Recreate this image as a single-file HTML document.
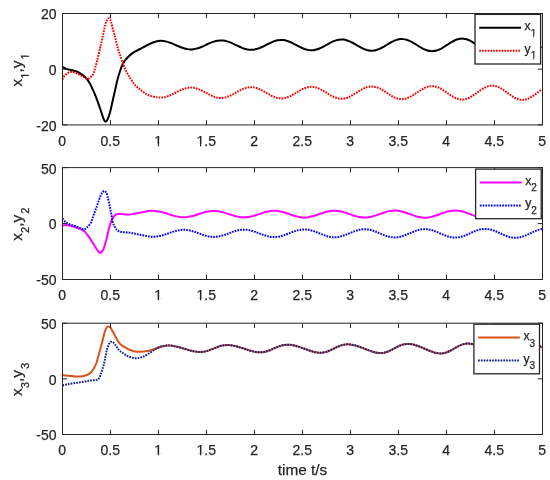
<!DOCTYPE html>
<html><head><meta charset="utf-8"><title>plot</title>
<style>html,body{margin:0;padding:0;background:#fff;}svg{display:block;}
text{font-family:'Liberation Sans', Arial, Helvetica, sans-serif;fill:#262626;stroke:#262626;stroke-width:0.25px;}</style></head><body>
<svg width="550" height="480" viewBox="0 0 550 480">
<rect width="550" height="480" fill="#fff"/>
<clipPath id="c0"><rect x="62.5" y="13.5" width="480.0" height="111.4"/></clipPath>
<g clip-path="url(#c0)" fill="none" stroke-width="2" stroke-linejoin="round">
<path d="M62.50,66.90 C63.23,67.27 65.32,68.55 66.90,69.10 C68.48,69.65 70.18,69.72 72.00,70.20 C73.82,70.68 75.98,71.15 77.80,72.00 C79.62,72.85 81.45,74.22 82.90,75.30 C84.35,76.38 85.28,77.05 86.50,78.50 C87.72,79.95 89.22,82.28 90.20,84.00 C91.18,85.72 91.70,87.27 92.40,88.80 C93.10,90.33 93.55,91.13 94.40,93.20 C95.25,95.27 96.47,98.40 97.50,101.20 C98.53,104.00 99.67,107.27 100.60,110.00 C101.53,112.73 102.37,115.70 103.10,117.60 C103.83,119.50 104.30,121.00 105.00,121.40 C105.70,121.80 106.47,121.48 107.30,120.00 C108.13,118.52 109.13,115.58 110.00,112.50 C110.87,109.42 111.67,105.15 112.50,101.50 C113.33,97.85 114.17,94.25 115.00,90.60 C115.83,86.95 116.67,82.83 117.50,79.60 C118.33,76.37 119.07,73.92 120.00,71.20 C120.93,68.48 121.85,65.58 123.10,63.30 C124.35,61.02 125.93,59.20 127.50,57.50 C129.07,55.80 130.42,54.52 132.50,53.10 C134.58,51.68 137.50,50.35 140.00,49.00 C142.50,47.65 145.21,46.12 147.50,45.00 C149.79,43.88 151.58,42.99 153.75,42.30 C155.92,41.61 158.88,41.06 160.50,40.85 C162.12,40.63 162.50,40.90 163.50,41.03 C164.50,41.15 165.50,41.35 166.50,41.60 C167.50,41.84 168.50,42.16 169.50,42.50 C170.50,42.85 171.50,43.25 172.50,43.66 C173.50,44.07 174.50,44.53 175.50,44.97 C176.50,45.40 177.50,45.87 178.50,46.29 C179.50,46.71 180.50,47.13 181.50,47.50 C182.50,47.86 183.50,48.20 184.50,48.47 C185.50,48.75 186.50,48.97 187.50,49.12 C188.50,49.27 189.50,49.36 190.50,49.38 C191.50,49.39 192.50,49.33 193.50,49.21 C194.50,49.08 195.50,48.88 196.50,48.63 C197.50,48.37 198.50,48.04 199.50,47.69 C200.50,47.33 201.50,46.90 202.50,46.47 C203.50,46.04 204.50,45.57 205.50,45.11 C206.50,44.65 207.50,44.16 208.50,43.71 C209.50,43.27 210.50,42.82 211.50,42.43 C212.50,42.04 213.50,41.68 214.50,41.39 C215.50,41.10 216.50,40.85 217.50,40.69 C218.50,40.52 219.50,40.42 220.50,40.40 C221.50,40.38 222.50,40.43 223.50,40.56 C224.50,40.68 225.50,40.89 226.50,41.15 C227.50,41.41 228.50,41.75 229.50,42.12 C230.50,42.49 231.50,42.93 232.50,43.38 C233.50,43.83 234.50,44.33 235.50,44.82 C236.50,45.30 237.50,45.81 238.50,46.28 C239.50,46.75 240.50,47.22 241.50,47.63 C242.50,48.04 243.50,48.43 244.50,48.74 C245.50,49.05 246.50,49.32 247.50,49.50 C248.50,49.68 249.50,49.79 250.50,49.82 C251.50,49.85 252.50,49.80 253.50,49.68 C254.50,49.56 255.50,49.35 256.50,49.08 C257.50,48.81 258.50,48.46 259.50,48.08 C260.50,47.69 261.50,47.23 262.50,46.77 C263.50,46.30 264.50,45.78 265.50,45.27 C266.50,44.76 267.50,44.23 268.50,43.73 C269.50,43.24 270.50,42.74 271.50,42.31 C272.50,41.87 273.50,41.46 274.50,41.13 C275.50,40.80 276.50,40.51 277.50,40.32 C278.50,40.12 279.50,40.00 280.50,39.96 C281.50,39.92 282.50,39.96 283.50,40.08 C284.50,40.20 285.50,40.41 286.50,40.69 C287.50,40.96 288.50,41.32 289.50,41.72 C290.50,42.12 291.50,42.59 292.50,43.08 C293.50,43.56 294.50,44.11 295.50,44.64 C296.50,45.16 297.50,45.73 298.50,46.24 C299.50,46.76 300.50,47.29 301.50,47.75 C302.50,48.20 303.50,48.64 304.50,48.99 C305.50,49.34 306.50,49.65 307.50,49.86 C308.50,50.07 309.50,50.21 310.50,50.26 C311.50,50.31 312.50,50.28 313.50,50.16 C314.50,50.04 315.50,49.82 316.50,49.55 C317.50,49.27 318.50,48.90 319.50,48.49 C320.50,48.08 321.50,47.59 322.50,47.08 C323.50,46.58 324.50,46.01 325.50,45.46 C326.50,44.91 327.50,44.33 328.50,43.78 C329.50,43.24 330.50,42.69 331.50,42.21 C332.50,41.73 333.50,41.27 334.50,40.89 C335.50,40.52 336.50,40.19 337.50,39.97 C338.50,39.74 339.50,39.58 340.50,39.52 C341.50,39.46 342.50,39.49 343.50,39.61 C344.50,39.72 345.50,39.93 346.50,40.22 C347.50,40.50 348.50,40.88 349.50,41.30 C350.50,41.72 351.50,42.23 352.50,42.75 C353.50,43.27 354.50,43.86 355.50,44.43 C356.50,45.00 357.50,45.61 358.50,46.18 C359.50,46.75 360.50,47.32 361.50,47.83 C362.50,48.34 363.50,48.82 364.50,49.22 C365.50,49.61 366.50,49.96 367.50,50.21 C368.50,50.45 369.50,50.62 370.50,50.69 C371.50,50.77 372.50,50.74 373.50,50.63 C374.50,50.52 375.50,50.31 376.50,50.02 C377.50,49.74 378.50,49.35 379.50,48.92 C380.50,48.49 381.50,47.96 382.50,47.42 C383.50,46.89 384.50,46.28 385.50,45.68 C386.50,45.09 387.50,44.45 388.50,43.86 C389.50,43.27 390.50,42.67 391.50,42.14 C392.50,41.61 393.50,41.10 394.50,40.68 C395.50,40.26 396.50,39.89 397.50,39.63 C398.50,39.36 399.50,39.18 400.50,39.09 C401.50,39.01 402.50,39.02 403.50,39.13 C404.50,39.24 405.50,39.45 406.50,39.74 C407.50,40.02 408.50,40.42 409.50,40.86 C410.50,41.30 411.50,41.84 412.50,42.40 C413.50,42.95 414.50,43.58 415.50,44.20 C416.50,44.81 417.50,45.47 418.50,46.09 C419.50,46.70 420.50,47.33 421.50,47.89 C422.50,48.44 423.50,48.98 424.50,49.42 C425.50,49.86 426.50,50.25 427.50,50.53 C428.50,50.82 429.50,51.02 430.50,51.12 C431.50,51.21 432.50,51.21 433.50,51.11 C434.50,51.01 435.50,50.80 436.50,50.51 C437.50,50.22 438.50,49.82 439.50,49.36 C440.50,48.91 441.50,48.36 442.50,47.79 C443.50,47.22 444.50,46.57 445.50,45.93 C446.50,45.29 447.50,44.61 448.50,43.97 C449.50,43.33 450.50,42.67 451.50,42.09 C452.50,41.51 453.50,40.95 454.50,40.49 C455.50,40.02 456.50,39.61 457.50,39.31 C458.50,39.01 459.50,38.78 460.50,38.67 C461.50,38.57 462.50,38.56 463.50,38.65 C464.50,38.75 465.50,38.95 466.50,39.25 C467.50,39.54 468.50,39.94 469.50,40.41 C470.50,40.87 471.50,41.43 472.50,42.02 C473.50,42.61 474.50,43.28 475.50,43.94 C476.50,44.59 477.50,45.30 478.50,45.97 C479.50,46.63 480.50,47.31 481.50,47.92 C482.50,48.52 483.50,49.11 484.50,49.60 C485.50,50.09 486.50,50.52 487.50,50.85 C488.50,51.17 489.50,51.41 490.50,51.53 C491.50,51.65 492.50,51.67 493.50,51.59 C494.50,51.50 495.50,51.29 496.50,51.00 C497.50,50.71 498.50,50.30 499.50,49.83 C500.50,49.36 501.50,48.78 502.50,48.18 C503.50,47.57 504.50,46.88 505.50,46.21 C506.50,45.53 507.50,44.79 508.50,44.10 C509.50,43.42 510.50,42.71 511.50,42.08 C512.50,41.45 513.50,40.83 514.50,40.32 C515.50,39.81 516.50,39.35 517.50,39.01 C518.50,38.66 519.50,38.40 520.50,38.27 C521.50,38.13 522.50,38.10 523.50,38.18 C524.50,38.26 525.50,38.46 526.50,38.75 C527.50,39.04 528.50,39.46 529.50,39.94 C530.50,40.42 531.50,41.00 532.50,41.62 C533.50,42.24 534.50,42.95 535.50,43.65 C536.50,44.35 537.50,45.11 538.50,45.82 C539.50,46.53 541.00,47.57 541.50,47.92" stroke="#000000"/>
<path d="M62.50,79.60 C62.68,79.18 63.10,77.88 63.60,77.10 C64.10,76.32 64.83,75.57 65.50,74.90 C66.17,74.23 66.82,73.58 67.60,73.10 C68.38,72.62 69.28,72.15 70.20,72.00 C71.12,71.85 72.20,72.05 73.10,72.20 C74.00,72.35 74.70,72.57 75.60,72.90 C76.50,73.23 77.58,73.75 78.50,74.20 C79.42,74.65 80.25,75.12 81.10,75.60 C81.95,76.08 82.82,76.67 83.60,77.10 C84.38,77.53 85.07,77.87 85.80,78.20 C86.53,78.53 87.27,79.22 88.00,79.10 C88.73,78.98 89.47,78.13 90.20,77.50 C90.93,76.87 91.80,76.10 92.40,75.30 C93.00,74.50 93.33,73.95 93.80,72.70 C94.27,71.45 94.60,70.00 95.20,67.80 C95.80,65.60 96.60,62.75 97.40,59.50 C98.20,56.25 99.36,51.00 100.00,48.30 C100.64,45.60 100.83,45.10 101.25,43.30 C101.67,41.50 102.08,39.43 102.50,37.50 C102.92,35.57 103.37,33.50 103.75,31.70 C104.13,29.90 104.38,28.37 104.80,26.70 C105.22,25.03 105.68,23.08 106.25,21.70 C106.82,20.32 107.58,18.75 108.20,18.40 C108.83,18.05 109.49,18.92 110.00,19.60 C110.51,20.28 110.70,20.63 111.25,22.50 C111.80,24.37 112.67,28.43 113.30,30.80 C113.92,33.17 114.51,34.82 115.00,36.70 C115.49,38.58 115.83,40.43 116.25,42.10 C116.67,43.77 117.16,45.45 117.50,46.70 C117.84,47.95 117.88,48.22 118.30,49.60 C118.72,50.98 119.20,52.57 120.00,55.00 C120.80,57.43 122.06,61.49 123.10,64.20 C124.14,66.91 125.00,68.83 126.25,71.25 C127.50,73.67 129.14,76.46 130.60,78.75 C132.06,81.04 133.43,83.22 135.00,85.00 C136.57,86.78 138.33,88.05 140.00,89.40 C141.67,90.75 143.33,92.03 145.00,93.10 C146.67,94.17 147.92,95.09 150.00,95.80 C152.08,96.51 155.75,97.06 157.50,97.37 C159.25,97.67 159.50,97.62 160.50,97.62 C161.50,97.63 162.50,97.55 163.50,97.40 C164.50,97.25 165.50,97.02 166.50,96.72 C167.50,96.43 168.50,96.05 169.50,95.65 C170.50,95.24 171.50,94.76 172.50,94.27 C173.50,93.79 174.50,93.25 175.50,92.74 C176.50,92.22 177.50,91.68 178.50,91.19 C179.50,90.69 180.50,90.20 181.50,89.77 C182.50,89.35 183.50,88.95 184.50,88.63 C185.50,88.32 186.50,88.05 187.50,87.88 C188.50,87.70 189.50,87.60 190.50,87.59 C191.50,87.57 192.50,87.64 193.50,87.79 C194.50,87.94 195.50,88.18 196.50,88.48 C197.50,88.77 198.50,89.16 199.50,89.58 C200.50,90.00 201.50,90.49 202.50,90.99 C203.50,91.49 204.50,92.04 205.50,92.58 C206.50,93.11 207.50,93.68 208.50,94.19 C209.50,94.71 210.50,95.22 211.50,95.67 C212.50,96.12 213.50,96.54 214.50,96.87 C215.50,97.21 216.50,97.49 217.50,97.67 C218.50,97.86 219.50,97.98 220.50,98.00 C221.50,98.02 222.50,97.96 223.50,97.81 C224.50,97.67 225.50,97.43 226.50,97.13 C227.50,96.83 228.50,96.43 229.50,96.00 C230.50,95.58 231.50,95.07 232.50,94.55 C233.50,94.04 234.50,93.46 235.50,92.91 C236.50,92.36 237.50,91.77 238.50,91.24 C239.50,90.70 240.50,90.16 241.50,89.69 C242.50,89.23 243.50,88.78 244.50,88.43 C245.50,88.08 246.50,87.78 247.50,87.58 C248.50,87.37 249.50,87.25 250.50,87.21 C251.50,87.18 252.50,87.24 253.50,87.38 C254.50,87.52 255.50,87.76 256.50,88.07 C257.50,88.37 258.50,88.77 259.50,89.21 C260.50,89.65 261.50,90.17 262.50,90.70 C263.50,91.23 264.50,91.82 265.50,92.39 C266.50,92.97 267.50,93.57 268.50,94.13 C269.50,94.69 270.50,95.25 271.50,95.74 C272.50,96.23 273.50,96.69 274.50,97.06 C275.50,97.43 276.50,97.75 277.50,97.97 C278.50,98.19 279.50,98.33 280.50,98.37 C281.50,98.41 282.50,98.36 283.50,98.22 C284.50,98.09 285.50,97.85 286.50,97.54 C287.50,97.23 288.50,96.83 289.50,96.38 C290.50,95.93 291.50,95.40 292.50,94.85 C293.50,94.31 294.50,93.70 295.50,93.11 C296.50,92.52 297.50,91.89 298.50,91.31 C299.50,90.73 300.50,90.15 301.50,89.64 C302.50,89.13 303.50,88.64 304.50,88.25 C305.50,87.86 306.50,87.52 307.50,87.29 C308.50,87.05 309.50,86.90 310.50,86.85 C311.50,86.79 312.50,86.83 313.50,86.97 C314.50,87.10 315.50,87.34 316.50,87.65 C317.50,87.96 318.50,88.37 319.50,88.83 C320.50,89.29 321.50,89.83 322.50,90.39 C323.50,90.95 324.50,91.58 325.50,92.19 C326.50,92.80 327.50,93.45 328.50,94.05 C329.50,94.64 330.50,95.25 331.50,95.78 C332.50,96.32 333.50,96.82 334.50,97.23 C335.50,97.64 336.50,98.00 337.50,98.25 C338.50,98.50 339.50,98.67 340.50,98.74 C341.50,98.80 342.50,98.77 343.50,98.64 C344.50,98.51 345.50,98.27 346.50,97.96 C347.50,97.65 348.50,97.23 349.50,96.77 C350.50,96.30 351.50,95.74 352.50,95.17 C353.50,94.60 354.50,93.95 355.50,93.32 C356.50,92.70 357.50,92.03 358.50,91.41 C359.50,90.79 360.50,90.16 361.50,89.60 C362.50,89.05 363.50,88.52 364.50,88.09 C365.50,87.66 366.50,87.28 367.50,87.01 C368.50,86.75 369.50,86.56 370.50,86.48 C371.50,86.41 372.50,86.43 373.50,86.56 C374.50,86.68 375.50,86.91 376.50,87.23 C377.50,87.54 378.50,87.96 379.50,88.43 C380.50,88.91 381.50,89.48 382.50,90.06 C383.50,90.65 384.50,91.31 385.50,91.96 C386.50,92.60 387.50,93.29 388.50,93.94 C389.50,94.58 390.50,95.23 391.50,95.81 C392.50,96.38 393.50,96.93 394.50,97.39 C395.50,97.84 396.50,98.23 397.50,98.52 C398.50,98.80 399.50,99.00 400.50,99.09 C401.50,99.18 402.50,99.17 403.50,99.05 C404.50,98.93 405.50,98.70 406.50,98.39 C407.50,98.07 408.50,97.65 409.50,97.17 C410.50,96.69 411.50,96.11 412.50,95.51 C413.50,94.91 414.50,94.23 415.50,93.57 C416.50,92.90 417.50,92.19 418.50,91.53 C419.50,90.87 420.50,90.19 421.50,89.59 C422.50,88.99 423.50,88.42 424.50,87.95 C425.50,87.47 426.50,87.06 427.50,86.75 C428.50,86.45 429.50,86.23 430.50,86.13 C431.50,86.03 432.50,86.04 433.50,86.15 C434.50,86.26 435.50,86.48 436.50,86.80 C437.50,87.11 438.50,87.54 439.50,88.03 C440.50,88.51 441.50,89.10 442.50,89.72 C443.50,90.33 444.50,91.02 445.50,91.70 C446.50,92.39 447.50,93.12 448.50,93.80 C449.50,94.49 450.50,95.19 451.50,95.80 C452.50,96.42 453.50,97.02 454.50,97.52 C455.50,98.01 456.50,98.45 457.50,98.77 C458.50,99.09 459.50,99.32 460.50,99.44 C461.50,99.55 462.50,99.56 463.50,99.46 C464.50,99.35 465.50,99.13 466.50,98.82 C467.50,98.51 468.50,98.08 469.50,97.58 C470.50,97.09 471.50,96.49 472.50,95.87 C473.50,95.24 474.50,94.53 475.50,93.83 C476.50,93.13 477.50,92.38 478.50,91.67 C479.50,90.97 480.50,90.25 481.50,89.61 C482.50,88.96 483.50,88.34 484.50,87.83 C485.50,87.31 486.50,86.85 487.50,86.51 C488.50,86.17 489.50,85.92 490.50,85.79 C491.50,85.66 492.50,85.64 493.50,85.74 C494.50,85.83 495.50,86.05 496.50,86.36 C497.50,86.67 498.50,87.11 499.50,87.60 C500.50,88.10 501.50,88.71 502.50,89.35 C503.50,89.99 504.50,90.71 505.50,91.43 C506.50,92.15 507.50,92.92 508.50,93.64 C509.50,94.37 510.50,95.12 511.50,95.78 C512.50,96.44 513.50,97.09 514.50,97.63 C515.50,98.16 516.50,98.64 517.50,99.00 C518.50,99.36 519.50,99.63 520.50,99.78 C521.50,99.92 522.50,99.95 523.50,99.86 C524.50,99.78 525.50,99.57 526.50,99.26 C527.50,98.95 528.50,98.51 529.50,98.01 C530.50,97.51 531.50,96.89 532.50,96.24 C533.50,95.59 534.50,94.85 535.50,94.12 C536.50,93.38 537.50,92.59 538.50,91.84 C539.50,91.10 541.00,90.01 541.50,89.64" stroke="#ff0000" stroke-dasharray="1.7 1.1"/>
</g>
<rect x="62.5" y="13.5" width="480.0" height="111.4" fill="none" stroke="#262626" stroke-width="1"/>
<path d="M62.50,124.9V120.10000000000001M62.50,13.5V18.3M110.50,124.9V120.10000000000001M110.50,13.5V18.3M158.50,124.9V120.10000000000001M158.50,13.5V18.3M206.50,124.9V120.10000000000001M206.50,13.5V18.3M254.50,124.9V120.10000000000001M254.50,13.5V18.3M302.50,124.9V120.10000000000001M302.50,13.5V18.3M350.50,124.9V120.10000000000001M350.50,13.5V18.3M398.50,124.9V120.10000000000001M398.50,13.5V18.3M446.50,124.9V120.10000000000001M446.50,13.5V18.3M494.50,124.9V120.10000000000001M494.50,13.5V18.3M542.50,124.9V120.10000000000001M542.50,13.5V18.3M62.5,13.50H67.3M542.5,13.50H537.7M62.5,69.20H67.3M542.5,69.20H537.7M62.5,124.90H67.3M542.5,124.90H537.7" stroke="#262626" stroke-width="1" fill="none"/>
<text x="62.20" y="145.65" font-size="14" text-anchor="middle">0</text>
<text x="110.20" y="145.65" font-size="14" text-anchor="middle">0.5</text>
<text x="158.20" y="145.65" font-size="14" text-anchor="middle" clip-path="url(#f0)">1</text>
<text x="206.20" y="145.65" font-size="14" text-anchor="middle" clip-path="url(#f1)">1.5</text>
<text x="254.20" y="145.65" font-size="14" text-anchor="middle">2</text>
<text x="302.20" y="145.65" font-size="14" text-anchor="middle">2.5</text>
<text x="350.20" y="145.65" font-size="14" text-anchor="middle">3</text>
<text x="398.20" y="145.65" font-size="14" text-anchor="middle">3.5</text>
<text x="446.20" y="145.65" font-size="14" text-anchor="middle">4</text>
<text x="494.20" y="145.65" font-size="14" text-anchor="middle">4.5</text>
<text x="542.20" y="145.65" font-size="14" text-anchor="middle">5</text>
<text x="56.6" y="19.40" font-size="14" text-anchor="end">20</text>
<text x="56.6" y="75.10" font-size="14" text-anchor="end">0</text>
<text x="56.6" y="130.80" font-size="14" text-anchor="end">-20</text>
<text transform="translate(21.75,69.80) rotate(-90)" font-size="15.4" text-anchor="middle" clip-path="url(#f2)">x<tspan font-size="11.2" dy="7.2">1</tspan><tspan dy="-7.2">,y</tspan><tspan font-size="11.2" dx="1" dy="7.2">1</tspan></text>
<rect x="475.0" y="14.40" width="65.60000000000002" height="49.60" fill="#fff" stroke="#262626" stroke-width="1.3"/>
<path d="M479.20,27.80H521.00" stroke="#000000" stroke-width="2"/>
<path d="M479.20,50.80H521.00" stroke="#ff0000" stroke-width="2" stroke-dasharray="1.7 1.1"/>
<text x="524.60" y="30.00" font-size="12.2" fill="#000" clip-path="url(#f3)">x<tspan font-size="10" dy="6.7">1</tspan></text>
<text x="524.60" y="52.70" font-size="12.2" fill="#000" clip-path="url(#f4)">y<tspan font-size="10" dy="6.7">1</tspan></text>
<clipPath id="c1"><rect x="62.5" y="167.6" width="480.0" height="111.9"/></clipPath>
<g clip-path="url(#c1)" fill="none" stroke-width="2" stroke-linejoin="round">
<path d="M62.50,225.60 C63.12,225.52 64.79,225.03 66.25,225.10 C67.71,225.17 69.58,225.60 71.25,226.00 C72.92,226.40 74.58,226.93 76.25,227.50 C77.92,228.07 79.79,228.67 81.25,229.40 C82.71,230.13 83.75,230.70 85.00,231.90 C86.25,233.10 87.50,234.83 88.75,236.60 C90.00,238.37 91.36,240.68 92.50,242.50 C93.64,244.32 94.56,245.93 95.60,247.50 C96.64,249.07 97.92,251.02 98.75,251.90 C99.58,252.78 99.88,253.12 100.60,252.80 C101.32,252.48 102.37,251.40 103.10,250.00 C103.83,248.60 104.37,246.48 105.00,244.40 C105.63,242.32 106.32,239.82 106.90,237.50 C107.48,235.18 107.73,233.30 108.50,230.50 C109.27,227.70 110.45,223.23 111.50,220.70 C112.55,218.17 113.70,216.42 114.80,215.30 C115.90,214.18 116.65,214.18 118.10,214.00 C119.55,213.82 121.68,214.10 123.50,214.20 C125.32,214.30 127.00,214.70 129.00,214.60 C131.00,214.50 133.32,213.98 135.50,213.60 C137.68,213.22 139.92,212.72 142.10,212.30 C144.28,211.88 146.60,211.33 148.60,211.10 C150.60,210.87 152.28,210.83 154.10,210.90 C155.92,210.97 157.78,211.19 159.50,211.50 C161.22,211.81 163.08,212.42 164.40,212.79 C165.72,213.16 166.40,213.40 167.40,213.72 C168.40,214.04 169.40,214.38 170.40,214.69 C171.40,215.01 172.40,215.33 173.40,215.61 C174.40,215.89 175.40,216.16 176.40,216.38 C177.40,216.61 178.40,216.80 179.40,216.94 C180.40,217.08 181.40,217.18 182.40,217.22 C183.40,217.26 184.40,217.26 185.40,217.20 C186.40,217.14 187.40,217.03 188.40,216.88 C189.40,216.73 190.40,216.52 191.40,216.29 C192.40,216.05 193.40,215.77 194.40,215.48 C195.40,215.19 196.40,214.86 197.40,214.54 C198.40,214.21 199.40,213.87 200.40,213.55 C201.40,213.23 202.40,212.90 203.40,212.61 C204.40,212.32 205.40,212.04 206.40,211.82 C207.40,211.59 208.40,211.39 209.40,211.24 C210.40,211.09 211.40,210.99 212.40,210.94 C213.40,210.89 214.40,210.89 215.40,210.94 C216.40,211.00 217.40,211.11 218.40,211.26 C219.40,211.41 220.40,211.61 221.40,211.85 C222.40,212.08 223.40,212.36 224.40,212.65 C225.40,212.95 226.40,213.28 227.40,213.61 C228.40,213.93 229.40,214.28 230.40,214.61 C231.40,214.94 232.40,215.27 233.40,215.57 C234.40,215.86 235.40,216.15 236.40,216.38 C237.40,216.62 238.40,216.83 239.40,216.98 C240.40,217.13 241.40,217.25 242.40,217.30 C243.40,217.36 244.40,217.36 245.40,217.31 C246.40,217.26 247.40,217.16 248.40,217.01 C249.40,216.86 250.40,216.66 251.40,216.42 C252.40,216.19 253.40,215.91 254.40,215.61 C255.40,215.32 256.40,214.98 257.40,214.65 C258.40,214.32 259.40,213.97 260.40,213.63 C261.40,213.30 262.40,212.96 263.40,212.66 C264.40,212.36 265.40,212.06 266.40,211.82 C267.40,211.58 268.40,211.36 269.40,211.20 C270.40,211.04 271.40,210.92 272.40,210.86 C273.40,210.80 274.40,210.79 275.40,210.83 C276.40,210.88 277.40,210.98 278.40,211.13 C279.40,211.27 280.40,211.47 281.40,211.71 C282.40,211.94 283.40,212.22 284.40,212.52 C285.40,212.82 286.40,213.16 287.40,213.49 C288.40,213.82 289.40,214.18 290.40,214.52 C291.40,214.86 292.40,215.21 293.40,215.52 C294.40,215.83 295.40,216.13 296.40,216.38 C297.40,216.63 298.40,216.85 299.40,217.02 C300.40,217.18 301.40,217.31 302.40,217.38 C303.40,217.44 304.40,217.46 305.40,217.42 C306.40,217.38 307.40,217.28 308.40,217.14 C309.40,217.00 310.40,216.80 311.40,216.57 C312.40,216.33 313.40,216.05 314.40,215.75 C315.40,215.45 316.40,215.11 317.40,214.77 C318.40,214.43 319.40,214.07 320.40,213.72 C321.40,213.38 322.40,213.03 323.40,212.71 C324.40,212.39 325.40,212.09 326.40,211.83 C327.40,211.57 328.40,211.34 329.40,211.17 C330.40,210.99 331.40,210.86 332.40,210.79 C333.40,210.71 334.40,210.69 335.40,210.73 C336.40,210.76 337.40,210.85 338.40,210.99 C339.40,211.13 340.40,211.33 341.40,211.56 C342.40,211.80 343.40,212.08 344.40,212.38 C345.40,212.68 346.40,213.03 347.40,213.37 C348.40,213.71 349.40,214.08 350.40,214.43 C351.40,214.78 352.40,215.14 353.40,215.46 C354.40,215.78 355.40,216.10 356.40,216.36 C357.40,216.63 358.40,216.87 359.40,217.05 C360.40,217.23 361.40,217.37 362.40,217.45 C363.40,217.53 364.40,217.56 365.40,217.53 C366.40,217.50 367.40,217.41 368.40,217.27 C369.40,217.13 370.40,216.94 371.40,216.71 C372.40,216.48 373.40,216.19 374.40,215.89 C375.40,215.59 376.40,215.24 377.40,214.89 C378.40,214.55 379.40,214.17 380.40,213.82 C381.40,213.47 382.40,213.10 383.40,212.77 C384.40,212.44 385.40,212.12 386.40,211.85 C387.40,211.57 388.40,211.33 389.40,211.14 C390.40,210.95 391.40,210.80 392.40,210.72 C393.40,210.63 394.40,210.60 395.40,210.62 C396.40,210.65 397.40,210.73 398.40,210.86 C399.40,211.00 400.40,211.19 401.40,211.42 C402.40,211.65 403.40,211.94 404.40,212.24 C405.40,212.54 406.40,212.89 407.40,213.24 C408.40,213.59 409.40,213.97 410.40,214.33 C411.40,214.69 412.40,215.06 413.40,215.40 C414.40,215.73 415.40,216.06 416.40,216.34 C417.40,216.62 418.40,216.88 419.40,217.07 C420.40,217.27 421.40,217.42 422.40,217.52 C423.40,217.61 424.40,217.65 425.40,217.63 C426.40,217.61 427.40,217.53 428.40,217.40 C429.40,217.27 430.40,217.08 431.40,216.85 C432.40,216.62 433.40,216.34 434.40,216.03 C435.40,215.73 436.40,215.38 437.40,215.02 C438.40,214.67 439.40,214.29 440.40,213.92 C441.40,213.56 442.40,213.18 443.40,212.84 C444.40,212.50 445.40,212.16 446.40,211.87 C447.40,211.58 448.40,211.32 449.40,211.12 C450.40,210.91 451.40,210.75 452.40,210.65 C453.40,210.55 454.40,210.51 455.40,210.52 C456.40,210.53 457.40,210.61 458.40,210.73 C459.40,210.86 460.40,211.05 461.40,211.28 C462.40,211.50 463.40,211.79 464.40,212.09 C465.40,212.40 466.40,212.75 467.40,213.11 C468.40,213.46 469.40,213.85 470.40,214.22 C471.40,214.59 472.40,214.98 473.40,215.33 C474.40,215.68 475.40,216.02 476.40,216.32 C477.40,216.61 478.40,216.88 479.40,217.09 C480.40,217.30 481.40,217.47 482.40,217.58 C483.40,217.69 484.40,217.74 485.40,217.73 C486.40,217.72 487.40,217.65 488.40,217.53 C489.40,217.41 490.40,217.22 491.40,217.00 C492.40,216.77 493.40,216.49 494.40,216.18 C495.40,215.87 496.40,215.52 497.40,215.16 C498.40,214.80 499.40,214.41 500.40,214.03 C501.40,213.66 502.40,213.27 503.40,212.91 C504.40,212.56 505.40,212.20 506.40,211.90 C507.40,211.60 508.40,211.32 509.40,211.10 C510.40,210.88 511.40,210.71 512.40,210.59 C513.40,210.48 514.40,210.42 515.40,210.42 C516.40,210.42 517.40,210.49 518.40,210.61 C519.40,210.72 520.40,210.91 521.40,211.13 C522.40,211.35 523.40,211.64 524.40,211.95 C525.40,212.25 526.40,212.61 527.40,212.97 C528.40,213.33 529.40,213.73 530.40,214.11 C531.40,214.49 532.40,214.89 533.40,215.25 C534.40,215.61 535.40,215.97 536.40,216.28 C537.40,216.59 538.40,216.88 539.40,217.10 C540.40,217.33 541.90,217.55 542.40,217.64" stroke="#ff00ff"/>
<path d="M62.50,218.50 C63.02,219.12 64.35,221.22 65.60,222.20 C66.85,223.18 68.43,223.77 70.00,224.40 C71.57,225.03 73.33,225.38 75.00,226.00 C76.67,226.62 78.54,227.53 80.00,228.10 C81.46,228.67 82.60,229.50 83.75,229.40 C84.90,229.30 85.76,228.55 86.90,227.50 C88.04,226.45 89.62,224.77 90.60,223.10 C91.57,221.43 92.02,219.47 92.75,217.50 C93.48,215.53 94.31,213.12 95.00,211.25 C95.69,209.38 96.28,208.03 96.90,206.25 C97.53,204.47 98.13,202.38 98.75,200.60 C99.37,198.82 99.97,196.99 100.60,195.60 C101.22,194.21 101.87,193.02 102.50,192.25 C103.13,191.48 103.78,190.92 104.40,191.00 C105.03,191.08 105.73,191.88 106.25,192.75 C106.77,193.62 107.08,194.79 107.50,196.25 C107.92,197.71 108.33,199.62 108.75,201.50 C109.17,203.38 109.58,205.42 110.00,207.50 C110.42,209.58 110.82,211.67 111.25,214.00 C111.68,216.33 112.01,219.38 112.60,221.50 C113.19,223.62 113.98,225.20 114.80,226.70 C115.62,228.20 116.40,229.62 117.50,230.50 C118.60,231.38 119.85,231.68 121.40,232.00 C122.95,232.32 124.80,232.18 126.80,232.40 C128.80,232.62 131.22,232.92 133.40,233.30 C135.58,233.68 137.73,234.25 139.90,234.70 C142.07,235.15 144.22,235.65 146.40,236.00 C148.58,236.35 150.82,236.80 153.00,236.80 C155.18,236.80 157.60,236.34 159.50,236.00 C161.40,235.66 163.08,235.13 164.40,234.75 C165.72,234.37 166.40,234.07 167.40,233.72 C168.40,233.37 169.40,233.00 170.40,232.65 C171.40,232.30 172.40,231.94 173.40,231.63 C174.40,231.32 175.40,231.02 176.40,230.77 C177.40,230.53 178.40,230.31 179.40,230.16 C180.40,230.00 181.40,229.89 182.40,229.84 C183.40,229.79 184.40,229.80 185.40,229.86 C186.40,229.92 187.40,230.05 188.40,230.21 C189.40,230.38 190.40,230.61 191.40,230.87 C192.40,231.13 193.40,231.44 194.40,231.77 C195.40,232.09 196.40,232.46 197.40,232.81 C198.40,233.17 199.40,233.56 200.40,233.92 C201.40,234.27 202.40,234.64 203.40,234.96 C204.40,235.29 205.40,235.60 206.40,235.85 C207.40,236.11 208.40,236.34 209.40,236.50 C210.40,236.67 211.40,236.78 212.40,236.84 C213.40,236.90 214.40,236.90 215.40,236.84 C216.40,236.78 217.40,236.66 218.40,236.49 C219.40,236.32 220.40,236.09 221.40,235.83 C222.40,235.57 223.40,235.25 224.40,234.92 C225.40,234.60 226.40,234.22 227.40,233.85 C228.40,233.49 229.40,233.09 230.40,232.73 C231.40,232.36 232.40,231.98 233.40,231.65 C234.40,231.31 235.40,230.99 236.40,230.72 C237.40,230.46 238.40,230.22 239.40,230.04 C240.40,229.87 241.40,229.74 242.40,229.68 C243.40,229.62 244.40,229.61 245.40,229.66 C246.40,229.72 247.40,229.84 248.40,230.00 C249.40,230.17 250.40,230.40 251.40,230.66 C252.40,230.93 253.40,231.25 254.40,231.58 C255.40,231.92 256.40,232.30 257.40,232.67 C258.40,233.05 259.40,233.45 260.40,233.83 C261.40,234.21 262.40,234.60 263.40,234.94 C264.40,235.29 265.40,235.62 266.40,235.90 C267.40,236.18 268.40,236.43 269.40,236.61 C270.40,236.79 271.40,236.93 272.40,237.00 C273.40,237.07 274.40,237.08 275.40,237.03 C276.40,236.98 277.40,236.87 278.40,236.70 C279.40,236.54 280.40,236.31 281.40,236.04 C282.40,235.78 283.40,235.45 284.40,235.11 C285.40,234.77 286.40,234.38 287.40,234.00 C288.40,233.62 289.40,233.20 290.40,232.81 C291.40,232.43 292.40,232.03 293.40,231.67 C294.40,231.32 295.40,230.97 296.40,230.68 C297.40,230.39 298.40,230.13 299.40,229.94 C300.40,229.75 301.40,229.60 302.40,229.52 C303.40,229.44 304.40,229.43 305.40,229.47 C306.40,229.51 307.40,229.63 308.40,229.79 C309.40,229.95 310.40,230.18 311.40,230.45 C312.40,230.72 313.40,231.05 314.40,231.39 C315.40,231.74 316.40,232.13 317.40,232.52 C318.40,232.91 319.40,233.34 320.40,233.74 C321.40,234.13 322.40,234.54 323.40,234.91 C324.40,235.28 325.40,235.64 326.40,235.94 C327.40,236.23 328.40,236.50 329.40,236.71 C330.40,236.91 331.40,237.07 332.40,237.15 C333.40,237.24 334.40,237.27 335.40,237.23 C336.40,237.19 337.40,237.08 338.40,236.92 C339.40,236.76 340.40,236.53 341.40,236.26 C342.40,235.99 343.40,235.66 344.40,235.31 C345.40,234.95 346.40,234.55 347.40,234.15 C348.40,233.76 349.40,233.32 350.40,232.92 C351.40,232.51 352.40,232.09 353.40,231.71 C354.40,231.33 355.40,230.96 356.40,230.65 C357.40,230.34 358.40,230.06 359.40,229.85 C360.40,229.63 361.40,229.47 362.40,229.37 C363.40,229.28 364.40,229.24 365.40,229.28 C366.40,229.31 367.40,229.42 368.40,229.58 C369.40,229.73 370.40,229.96 371.40,230.23 C372.40,230.50 373.40,230.84 374.40,231.19 C375.40,231.55 376.40,231.96 377.40,232.36 C378.40,232.77 379.40,233.21 380.40,233.63 C381.40,234.05 382.40,234.48 383.40,234.87 C384.40,235.26 385.40,235.64 386.40,235.96 C387.40,236.28 388.40,236.57 389.40,236.80 C390.40,237.02 391.40,237.20 392.40,237.30 C393.40,237.40 394.40,237.44 395.40,237.42 C396.40,237.39 397.40,237.29 398.40,237.13 C399.40,236.98 400.40,236.75 401.40,236.48 C402.40,236.20 403.40,235.87 404.40,235.51 C405.40,235.15 406.40,234.73 407.40,234.32 C408.40,233.91 409.40,233.46 410.40,233.03 C411.40,232.60 412.40,232.16 413.40,231.76 C414.40,231.36 415.40,230.96 416.40,230.63 C417.40,230.30 418.40,229.99 419.40,229.76 C420.40,229.53 421.40,229.34 422.40,229.23 C423.40,229.12 424.40,229.07 425.40,229.09 C426.40,229.11 427.40,229.21 428.40,229.36 C429.40,229.51 430.40,229.74 431.40,230.01 C432.40,230.29 433.40,230.63 434.40,230.99 C435.40,231.35 436.40,231.77 437.40,232.19 C438.40,232.61 439.40,233.07 440.40,233.51 C441.40,233.95 442.40,234.40 443.40,234.81 C444.40,235.22 445.40,235.63 446.40,235.97 C447.40,236.32 448.40,236.63 449.40,236.88 C450.40,237.12 451.40,237.32 452.40,237.44 C453.40,237.56 454.40,237.62 455.40,237.60 C456.40,237.59 457.40,237.50 458.40,237.35 C459.40,237.20 460.40,236.97 461.40,236.70 C462.40,236.43 463.40,236.08 464.40,235.72 C465.40,235.35 466.40,234.92 467.40,234.49 C468.40,234.07 469.40,233.60 470.40,233.15 C471.40,232.71 472.40,232.24 473.40,231.82 C474.40,231.40 475.40,230.98 476.40,230.62 C477.40,230.27 478.40,229.94 479.40,229.68 C480.40,229.43 481.40,229.22 482.40,229.09 C483.40,228.96 484.40,228.90 485.40,228.90 C486.40,228.91 487.40,229.00 488.40,229.14 C489.40,229.29 490.40,229.52 491.40,229.79 C492.40,230.06 493.40,230.41 494.40,230.78 C495.40,231.15 496.40,231.58 497.40,232.01 C498.40,232.45 499.40,232.93 500.40,233.38 C501.40,233.84 502.40,234.31 503.40,234.75 C504.40,235.18 505.40,235.61 506.40,235.98 C507.40,236.34 508.40,236.68 509.40,236.95 C510.40,237.22 511.40,237.44 512.40,237.58 C513.40,237.71 514.40,237.79 515.40,237.79 C516.40,237.79 517.40,237.71 518.40,237.56 C519.40,237.42 520.40,237.20 521.40,236.93 C522.40,236.65 523.40,236.31 524.40,235.93 C525.40,235.56 526.40,235.12 527.40,234.68 C528.40,234.24 529.40,233.75 530.40,233.29 C531.40,232.82 532.40,232.34 533.40,231.89 C534.40,231.45 535.40,231.01 536.40,230.63 C537.40,230.25 538.40,229.89 539.40,229.62 C540.40,229.34 541.90,229.07 542.40,228.96" stroke="#0000ff" stroke-dasharray="1.7 1.1"/>
</g>
<rect x="62.5" y="167.6" width="480.0" height="111.9" fill="none" stroke="#262626" stroke-width="1"/>
<path d="M62.50,279.5V274.7M62.50,167.6V172.4M110.50,279.5V274.7M110.50,167.6V172.4M158.50,279.5V274.7M158.50,167.6V172.4M206.50,279.5V274.7M206.50,167.6V172.4M254.50,279.5V274.7M254.50,167.6V172.4M302.50,279.5V274.7M302.50,167.6V172.4M350.50,279.5V274.7M350.50,167.6V172.4M398.50,279.5V274.7M398.50,167.6V172.4M446.50,279.5V274.7M446.50,167.6V172.4M494.50,279.5V274.7M494.50,167.6V172.4M542.50,279.5V274.7M542.50,167.6V172.4M62.5,167.60H67.3M542.5,167.60H537.7M62.5,223.55H67.3M542.5,223.55H537.7M62.5,279.50H67.3M542.5,279.50H537.7" stroke="#262626" stroke-width="1" fill="none"/>
<text x="62.20" y="300.25" font-size="14" text-anchor="middle">0</text>
<text x="110.20" y="300.25" font-size="14" text-anchor="middle">0.5</text>
<text x="158.20" y="300.25" font-size="14" text-anchor="middle" clip-path="url(#f5)">1</text>
<text x="206.20" y="300.25" font-size="14" text-anchor="middle" clip-path="url(#f6)">1.5</text>
<text x="254.20" y="300.25" font-size="14" text-anchor="middle">2</text>
<text x="302.20" y="300.25" font-size="14" text-anchor="middle">2.5</text>
<text x="350.20" y="300.25" font-size="14" text-anchor="middle">3</text>
<text x="398.20" y="300.25" font-size="14" text-anchor="middle">3.5</text>
<text x="446.20" y="300.25" font-size="14" text-anchor="middle">4</text>
<text x="494.20" y="300.25" font-size="14" text-anchor="middle">4.5</text>
<text x="542.20" y="300.25" font-size="14" text-anchor="middle">5</text>
<text x="56.6" y="173.50" font-size="14" text-anchor="end">50</text>
<text x="56.6" y="229.45" font-size="14" text-anchor="end">0</text>
<text x="56.6" y="285.40" font-size="14" text-anchor="end">-50</text>
<text transform="translate(21.75,224.15) rotate(-90)" font-size="15.4" text-anchor="middle">x<tspan font-size="11.2" dy="7.2">2</tspan><tspan dy="-7.2">,y</tspan><tspan font-size="11.2" dx="1" dy="7.2">2</tspan></text>
<rect x="475.6" y="169.10" width="65.60000000000002" height="49.60" fill="#fff" stroke="#262626" stroke-width="1.3"/>
<path d="M479.80,182.50H521.60" stroke="#ff00ff" stroke-width="2"/>
<path d="M479.80,205.50H521.60" stroke="#0000ff" stroke-width="2" stroke-dasharray="1.7 1.1"/>
<text x="525.20" y="184.70" font-size="12.2" fill="#000">x<tspan font-size="10" dy="6.7">2</tspan></text>
<text x="525.20" y="207.40" font-size="12.2" fill="#000">y<tspan font-size="10" dy="6.7">2</tspan></text>
<clipPath id="c2"><rect x="62.5" y="323.2" width="480.0" height="111.30000000000001"/></clipPath>
<g clip-path="url(#c2)" fill="none" stroke-width="2" stroke-linejoin="round">
<path d="M62.50,375.10 C63.33,375.21 65.42,375.53 67.50,375.75 C69.58,375.97 72.50,376.32 75.00,376.40 C77.50,376.48 80.52,376.48 82.50,376.25 C84.48,376.02 85.55,375.57 86.90,375.00 C88.25,374.43 89.46,373.88 90.60,372.80 C91.74,371.72 92.81,370.05 93.75,368.50 C94.69,366.95 95.53,365.42 96.25,363.50 C96.97,361.58 97.52,359.02 98.10,357.00 C98.67,354.98 99.17,353.27 99.70,351.40 C100.23,349.52 100.73,347.73 101.25,345.75 C101.77,343.77 102.27,341.58 102.80,339.50 C103.33,337.42 103.88,335.02 104.40,333.25 C104.92,331.48 105.43,329.96 105.90,328.90 C106.37,327.84 106.80,327.32 107.20,326.90 C107.60,326.48 107.83,326.38 108.30,326.40 C108.77,326.42 109.40,326.38 110.00,327.00 C110.60,327.62 111.28,329.06 111.90,330.10 C112.53,331.14 113.13,332.10 113.75,333.25 C114.37,334.40 114.88,335.64 115.60,337.00 C116.32,338.36 117.27,340.15 118.10,341.40 C118.93,342.65 119.66,343.62 120.60,344.50 C121.54,345.38 122.18,345.78 123.75,346.70 C125.32,347.62 128.12,349.22 130.00,350.00 C131.88,350.78 133.18,351.10 135.00,351.40 C136.82,351.70 139.07,351.82 140.90,351.80 C142.73,351.78 144.18,351.60 146.00,351.30 C147.82,351.00 149.62,350.67 151.80,350.00 C153.98,349.33 156.53,348.07 159.10,347.30 C161.67,346.53 165.35,345.69 167.20,345.40 C169.05,345.11 169.20,345.44 170.20,345.53 C171.20,345.62 172.20,345.76 173.20,345.93 C174.20,346.10 175.20,346.31 176.20,346.53 C177.20,346.76 178.20,347.02 179.20,347.28 C180.20,347.55 181.20,347.84 182.20,348.13 C183.20,348.42 184.20,348.72 185.20,349.02 C186.20,349.31 187.20,349.61 188.20,349.89 C189.20,350.18 190.20,350.46 191.20,350.71 C192.20,350.96 193.20,351.19 194.20,351.38 C195.20,351.57 196.20,351.74 197.20,351.84 C198.20,351.94 199.20,352.00 200.20,352.00 C201.20,351.99 202.20,351.92 203.20,351.79 C204.20,351.66 205.20,351.46 206.20,351.21 C207.20,350.96 208.20,350.63 209.20,350.29 C210.20,349.94 211.20,349.53 212.20,349.13 C213.20,348.73 214.20,348.29 215.20,347.90 C216.20,347.50 217.20,347.09 218.20,346.75 C219.20,346.41 220.20,346.09 221.20,345.84 C222.20,345.59 223.20,345.39 224.20,345.26 C225.20,345.12 226.20,345.05 227.20,345.04 C228.20,345.03 229.20,345.08 230.20,345.17 C231.20,345.27 232.20,345.42 233.20,345.61 C234.20,345.79 235.20,346.02 236.20,346.27 C237.20,346.52 238.20,346.80 239.20,347.10 C240.20,347.39 241.20,347.71 242.20,348.03 C243.20,348.35 244.20,348.69 245.20,349.01 C246.20,349.34 247.20,349.68 248.20,349.99 C249.20,350.30 250.20,350.62 251.20,350.90 C252.20,351.17 253.20,351.44 254.20,351.65 C255.20,351.86 256.20,352.05 257.20,352.17 C258.20,352.29 259.20,352.36 260.20,352.36 C261.20,352.35 262.20,352.29 263.20,352.15 C264.20,352.01 265.20,351.79 266.20,351.52 C267.20,351.25 268.20,350.90 269.20,350.52 C270.20,350.14 271.20,349.69 272.20,349.25 C273.20,348.81 274.20,348.32 275.20,347.89 C276.20,347.45 277.20,346.99 278.20,346.61 C279.20,346.23 280.20,345.87 281.20,345.59 C282.20,345.31 283.20,345.09 284.20,344.94 C285.20,344.78 286.20,344.70 287.20,344.68 C288.20,344.66 289.20,344.71 290.20,344.81 C291.20,344.91 292.20,345.08 293.20,345.28 C294.20,345.47 295.20,345.73 296.20,346.00 C297.20,346.27 298.20,346.58 299.20,346.90 C300.20,347.22 301.20,347.57 302.20,347.92 C303.20,348.27 304.20,348.65 305.20,349.00 C306.20,349.36 307.20,349.73 308.20,350.08 C309.20,350.42 310.20,350.77 311.20,351.08 C312.20,351.38 313.20,351.68 314.20,351.91 C315.20,352.15 316.20,352.36 317.20,352.49 C318.20,352.63 319.20,352.72 320.20,352.72 C321.20,352.72 322.20,352.66 323.20,352.51 C324.20,352.36 325.20,352.13 326.20,351.84 C327.20,351.55 328.20,351.17 329.20,350.76 C330.20,350.35 331.20,349.86 332.20,349.38 C333.20,348.90 334.20,348.37 335.20,347.89 C336.20,347.41 337.20,346.91 338.20,346.49 C339.20,346.07 340.20,345.67 341.20,345.36 C342.20,345.05 343.20,344.79 344.20,344.62 C345.20,344.45 346.20,344.35 347.20,344.32 C348.20,344.30 349.20,344.35 350.20,344.45 C351.20,344.55 352.20,344.73 353.20,344.94 C354.20,345.15 355.20,345.43 356.20,345.72 C357.20,346.01 358.20,346.35 359.20,346.70 C360.20,347.05 361.20,347.43 362.20,347.81 C363.20,348.19 364.20,348.59 365.20,348.98 C366.20,349.38 367.20,349.78 368.20,350.16 C369.20,350.53 370.20,350.91 371.20,351.25 C372.20,351.58 373.20,351.91 374.20,352.17 C375.20,352.43 376.20,352.66 377.20,352.81 C378.20,352.97 379.20,353.07 380.20,353.08 C381.20,353.09 382.20,353.02 383.20,352.87 C384.20,352.72 385.20,352.48 386.20,352.17 C387.20,351.86 388.20,351.45 389.20,351.01 C390.20,350.57 391.20,350.04 392.20,349.52 C393.20,349.00 394.20,348.43 395.20,347.90 C396.20,347.38 397.20,346.83 398.20,346.37 C399.20,345.91 400.20,345.47 401.20,345.13 C402.20,344.79 403.20,344.50 404.20,344.31 C405.20,344.12 406.20,344.01 407.20,343.97 C408.20,343.93 409.20,343.98 410.20,344.09 C411.20,344.19 412.20,344.38 413.20,344.60 C414.20,344.83 415.20,345.12 416.20,345.43 C417.20,345.75 418.20,346.11 419.20,346.49 C420.20,346.86 421.20,347.27 422.20,347.69 C423.20,348.10 424.20,348.53 425.20,348.96 C426.20,349.38 427.20,349.82 428.20,350.23 C429.20,350.64 430.20,351.05 431.20,351.41 C432.20,351.78 433.20,352.13 434.20,352.42 C435.20,352.71 436.20,352.96 437.20,353.13 C438.20,353.30 439.20,353.42 440.20,353.44 C441.20,353.45 442.20,353.39 443.20,353.24 C444.20,353.08 445.20,352.83 446.20,352.50 C447.20,352.17 448.20,351.74 449.20,351.27 C450.20,350.80 451.20,350.23 452.20,349.67 C453.20,349.12 454.20,348.49 455.20,347.93 C456.20,347.36 457.20,346.77 458.20,346.27 C459.20,345.77 460.20,345.29 461.20,344.91 C462.20,344.53 463.20,344.22 464.20,344.01 C465.20,343.79 466.20,343.66 467.20,343.61 C468.20,343.57 469.20,343.61 470.20,343.72 C471.20,343.83 472.20,344.02 473.20,344.26 C474.20,344.50 475.20,344.81 476.20,345.14 C477.20,345.48 478.20,345.87 479.20,346.27 C480.20,346.67 481.20,347.11 482.20,347.55 C483.20,348.00 484.20,348.46 485.20,348.92 C486.20,349.37 487.20,349.85 488.20,350.29 C489.20,350.73 490.20,351.17 491.20,351.57 C492.20,351.97 493.20,352.35 494.20,352.66 C495.20,352.97 496.20,353.26 497.20,353.44 C498.20,353.63 499.20,353.77 500.20,353.79 C501.20,353.82 502.20,353.76 503.20,353.61 C504.20,353.45 505.20,353.18 506.20,352.84 C507.20,352.49 508.20,352.04 509.20,351.54 C510.20,351.04 511.20,350.43 512.20,349.84 C513.20,349.24 514.20,348.58 515.20,347.96 C516.20,347.35 517.20,346.72 518.20,346.18 C519.20,345.63 520.20,345.11 521.20,344.70 C522.20,344.29 523.20,343.95 524.20,343.71 C525.20,343.47 526.20,343.32 527.20,343.26 C528.20,343.20 529.20,343.25 530.20,343.35 C531.20,343.46 532.20,343.67 533.20,343.91 C534.20,344.16 535.20,344.49 536.20,344.84 C537.20,345.20 538.20,345.61 539.20,346.04 C540.20,346.47 541.70,347.18 542.20,347.41" stroke="#d95319"/>
<path d="M62.50,385.40 C63.33,385.23 65.42,384.78 67.50,384.40 C69.58,384.02 72.50,383.52 75.00,383.10 C77.50,382.68 80.00,382.32 82.50,381.90 C85.00,381.48 87.71,380.93 90.00,380.60 C92.29,380.27 94.79,380.25 96.25,379.90 C97.71,379.55 98.03,379.32 98.75,378.50 C99.47,377.68 99.97,376.58 100.60,375.00 C101.22,373.42 101.87,371.13 102.50,369.00 C103.13,366.87 103.88,364.40 104.40,362.20 C104.92,360.00 105.18,357.92 105.60,355.80 C106.02,353.68 106.53,350.97 106.90,349.50 C107.27,348.03 107.49,347.83 107.80,347.00 C108.11,346.17 108.38,345.28 108.75,344.50 C109.12,343.72 109.56,342.77 110.00,342.30 C110.44,341.83 110.88,341.70 111.40,341.70 C111.92,341.70 112.50,341.83 113.10,342.30 C113.70,342.77 114.42,343.77 115.00,344.50 C115.58,345.23 116.08,345.97 116.60,346.70 C117.12,347.43 117.53,348.18 118.10,348.90 C118.67,349.62 119.02,350.18 120.00,351.00 C120.98,351.82 122.63,352.90 124.00,353.80 C125.37,354.70 126.28,355.67 128.20,356.40 C130.12,357.13 133.08,358.12 135.50,358.20 C137.92,358.28 140.28,357.82 142.70,356.90 C145.12,355.98 147.57,354.15 150.00,352.70 C152.43,351.25 155.18,349.32 157.30,348.20 C159.42,347.08 161.05,346.47 162.70,346.00 C164.35,345.53 165.95,345.48 167.20,345.40 C168.45,345.32 169.20,345.44 170.20,345.53 C171.20,345.62 172.20,345.76 173.20,345.93 C174.20,346.10 175.20,346.31 176.20,346.53 C177.20,346.76 178.20,347.02 179.20,347.28 C180.20,347.55 181.20,347.84 182.20,348.13 C183.20,348.42 184.20,348.72 185.20,349.02 C186.20,349.31 187.20,349.61 188.20,349.89 C189.20,350.18 190.20,350.46 191.20,350.71 C192.20,350.96 193.20,351.19 194.20,351.38 C195.20,351.57 196.20,351.74 197.20,351.84 C198.20,351.94 199.20,352.00 200.20,352.00 C201.20,351.99 202.20,351.92 203.20,351.79 C204.20,351.66 205.20,351.46 206.20,351.21 C207.20,350.96 208.20,350.63 209.20,350.29 C210.20,349.94 211.20,349.53 212.20,349.13 C213.20,348.73 214.20,348.29 215.20,347.90 C216.20,347.50 217.20,347.09 218.20,346.75 C219.20,346.41 220.20,346.09 221.20,345.84 C222.20,345.59 223.20,345.39 224.20,345.26 C225.20,345.12 226.20,345.05 227.20,345.04 C228.20,345.03 229.20,345.08 230.20,345.17 C231.20,345.27 232.20,345.42 233.20,345.61 C234.20,345.79 235.20,346.02 236.20,346.27 C237.20,346.52 238.20,346.80 239.20,347.10 C240.20,347.39 241.20,347.71 242.20,348.03 C243.20,348.35 244.20,348.69 245.20,349.01 C246.20,349.34 247.20,349.68 248.20,349.99 C249.20,350.30 250.20,350.62 251.20,350.90 C252.20,351.17 253.20,351.44 254.20,351.65 C255.20,351.86 256.20,352.05 257.20,352.17 C258.20,352.29 259.20,352.36 260.20,352.36 C261.20,352.35 262.20,352.29 263.20,352.15 C264.20,352.01 265.20,351.79 266.20,351.52 C267.20,351.25 268.20,350.90 269.20,350.52 C270.20,350.14 271.20,349.69 272.20,349.25 C273.20,348.81 274.20,348.32 275.20,347.89 C276.20,347.45 277.20,346.99 278.20,346.61 C279.20,346.23 280.20,345.87 281.20,345.59 C282.20,345.31 283.20,345.09 284.20,344.94 C285.20,344.78 286.20,344.70 287.20,344.68 C288.20,344.66 289.20,344.71 290.20,344.81 C291.20,344.91 292.20,345.08 293.20,345.28 C294.20,345.47 295.20,345.73 296.20,346.00 C297.20,346.27 298.20,346.58 299.20,346.90 C300.20,347.22 301.20,347.57 302.20,347.92 C303.20,348.27 304.20,348.65 305.20,349.00 C306.20,349.36 307.20,349.73 308.20,350.08 C309.20,350.42 310.20,350.77 311.20,351.08 C312.20,351.38 313.20,351.68 314.20,351.91 C315.20,352.15 316.20,352.36 317.20,352.49 C318.20,352.63 319.20,352.72 320.20,352.72 C321.20,352.72 322.20,352.66 323.20,352.51 C324.20,352.36 325.20,352.13 326.20,351.84 C327.20,351.55 328.20,351.17 329.20,350.76 C330.20,350.35 331.20,349.86 332.20,349.38 C333.20,348.90 334.20,348.37 335.20,347.89 C336.20,347.41 337.20,346.91 338.20,346.49 C339.20,346.07 340.20,345.67 341.20,345.36 C342.20,345.05 343.20,344.79 344.20,344.62 C345.20,344.45 346.20,344.35 347.20,344.32 C348.20,344.30 349.20,344.35 350.20,344.45 C351.20,344.55 352.20,344.73 353.20,344.94 C354.20,345.15 355.20,345.43 356.20,345.72 C357.20,346.01 358.20,346.35 359.20,346.70 C360.20,347.05 361.20,347.43 362.20,347.81 C363.20,348.19 364.20,348.59 365.20,348.98 C366.20,349.38 367.20,349.78 368.20,350.16 C369.20,350.53 370.20,350.91 371.20,351.25 C372.20,351.58 373.20,351.91 374.20,352.17 C375.20,352.43 376.20,352.66 377.20,352.81 C378.20,352.97 379.20,353.07 380.20,353.08 C381.20,353.09 382.20,353.02 383.20,352.87 C384.20,352.72 385.20,352.48 386.20,352.17 C387.20,351.86 388.20,351.45 389.20,351.01 C390.20,350.57 391.20,350.04 392.20,349.52 C393.20,349.00 394.20,348.43 395.20,347.90 C396.20,347.38 397.20,346.83 398.20,346.37 C399.20,345.91 400.20,345.47 401.20,345.13 C402.20,344.79 403.20,344.50 404.20,344.31 C405.20,344.12 406.20,344.01 407.20,343.97 C408.20,343.93 409.20,343.98 410.20,344.09 C411.20,344.19 412.20,344.38 413.20,344.60 C414.20,344.83 415.20,345.12 416.20,345.43 C417.20,345.75 418.20,346.11 419.20,346.49 C420.20,346.86 421.20,347.27 422.20,347.69 C423.20,348.10 424.20,348.53 425.20,348.96 C426.20,349.38 427.20,349.82 428.20,350.23 C429.20,350.64 430.20,351.05 431.20,351.41 C432.20,351.78 433.20,352.13 434.20,352.42 C435.20,352.71 436.20,352.96 437.20,353.13 C438.20,353.30 439.20,353.42 440.20,353.44 C441.20,353.45 442.20,353.39 443.20,353.24 C444.20,353.08 445.20,352.83 446.20,352.50 C447.20,352.17 448.20,351.74 449.20,351.27 C450.20,350.80 451.20,350.23 452.20,349.67 C453.20,349.12 454.20,348.49 455.20,347.93 C456.20,347.36 457.20,346.77 458.20,346.27 C459.20,345.77 460.20,345.29 461.20,344.91 C462.20,344.53 463.20,344.22 464.20,344.01 C465.20,343.79 466.20,343.66 467.20,343.61 C468.20,343.57 469.20,343.61 470.20,343.72 C471.20,343.83 472.20,344.02 473.20,344.26 C474.20,344.50 475.20,344.81 476.20,345.14 C477.20,345.48 478.20,345.87 479.20,346.27 C480.20,346.67 481.20,347.11 482.20,347.55 C483.20,348.00 484.20,348.46 485.20,348.92 C486.20,349.37 487.20,349.85 488.20,350.29 C489.20,350.73 490.20,351.17 491.20,351.57 C492.20,351.97 493.20,352.35 494.20,352.66 C495.20,352.97 496.20,353.26 497.20,353.44 C498.20,353.63 499.20,353.77 500.20,353.79 C501.20,353.82 502.20,353.76 503.20,353.61 C504.20,353.45 505.20,353.18 506.20,352.84 C507.20,352.49 508.20,352.04 509.20,351.54 C510.20,351.04 511.20,350.43 512.20,349.84 C513.20,349.24 514.20,348.58 515.20,347.96 C516.20,347.35 517.20,346.72 518.20,346.18 C519.20,345.63 520.20,345.11 521.20,344.70 C522.20,344.29 523.20,343.95 524.20,343.71 C525.20,343.47 526.20,343.32 527.20,343.26 C528.20,343.20 529.20,343.25 530.20,343.35 C531.20,343.46 532.20,343.67 533.20,343.91 C534.20,344.16 535.20,344.49 536.20,344.84 C537.20,345.20 538.20,345.61 539.20,346.04 C540.20,346.47 541.70,347.18 542.20,347.41" stroke="#14208c" stroke-dasharray="1.7 1.1"/>
</g>
<rect x="62.5" y="323.2" width="480.0" height="111.30000000000001" fill="none" stroke="#262626" stroke-width="1"/>
<path d="M62.50,434.5V429.7M62.50,323.2V328.0M110.50,434.5V429.7M110.50,323.2V328.0M158.50,434.5V429.7M158.50,323.2V328.0M206.50,434.5V429.7M206.50,323.2V328.0M254.50,434.5V429.7M254.50,323.2V328.0M302.50,434.5V429.7M302.50,323.2V328.0M350.50,434.5V429.7M350.50,323.2V328.0M398.50,434.5V429.7M398.50,323.2V328.0M446.50,434.5V429.7M446.50,323.2V328.0M494.50,434.5V429.7M494.50,323.2V328.0M542.50,434.5V429.7M542.50,323.2V328.0M62.5,323.20H67.3M542.5,323.20H537.7M62.5,378.85H67.3M542.5,378.85H537.7M62.5,434.50H67.3M542.5,434.50H537.7" stroke="#262626" stroke-width="1" fill="none"/>
<text x="62.20" y="455.25" font-size="14" text-anchor="middle">0</text>
<text x="110.20" y="455.25" font-size="14" text-anchor="middle">0.5</text>
<text x="158.20" y="455.25" font-size="14" text-anchor="middle" clip-path="url(#f7)">1</text>
<text x="206.20" y="455.25" font-size="14" text-anchor="middle" clip-path="url(#f8)">1.5</text>
<text x="254.20" y="455.25" font-size="14" text-anchor="middle">2</text>
<text x="302.20" y="455.25" font-size="14" text-anchor="middle">2.5</text>
<text x="350.20" y="455.25" font-size="14" text-anchor="middle">3</text>
<text x="398.20" y="455.25" font-size="14" text-anchor="middle">3.5</text>
<text x="446.20" y="455.25" font-size="14" text-anchor="middle">4</text>
<text x="494.20" y="455.25" font-size="14" text-anchor="middle">4.5</text>
<text x="542.20" y="455.25" font-size="14" text-anchor="middle">5</text>
<text x="56.6" y="329.10" font-size="14" text-anchor="end">50</text>
<text x="56.6" y="384.75" font-size="14" text-anchor="end">0</text>
<text x="56.6" y="440.40" font-size="14" text-anchor="end">-50</text>
<text transform="translate(21.75,379.45) rotate(-90)" font-size="15.4" text-anchor="middle">x<tspan font-size="11.2" dy="7.2">3</tspan><tspan dy="-7.2">,y</tspan><tspan font-size="11.2" dx="1" dy="7.2">3</tspan></text>
<rect x="473.9" y="324.20" width="65.60000000000002" height="49.60" fill="#fff" stroke="#262626" stroke-width="1.3"/>
<path d="M478.10,337.60H519.90" stroke="#d95319" stroke-width="2"/>
<path d="M478.10,360.60H519.90" stroke="#14208c" stroke-width="2" stroke-dasharray="1.7 1.1"/>
<text x="523.50" y="339.80" font-size="12.2" fill="#000">x<tspan font-size="10" dy="6.7">3</tspan></text>
<text x="523.50" y="362.50" font-size="12.2" fill="#000">y<tspan font-size="10" dy="6.7">3</tspan></text>
<text x="302.5" y="475.4" font-size="15.4" text-anchor="middle">time t/s</text>
<defs><clipPath id="f0"><path d="M0,0H550V480H0Z M154.77,143.97H157.81V147.25H154.77Z M159.08,143.97H162.01V147.25H159.08Z" clip-rule="evenodd"/></clipPath><clipPath id="f1"><path d="M0,0H550V480H0Z M196.94,143.97H199.97V147.25H196.94Z M201.25,143.97H204.17V147.25H201.25Z" clip-rule="evenodd"/></clipPath><clipPath id="f2"><path d="M-40,-30H40V30H-40Z M-8.62,5.77H-6.07V8.80H-8.62Z M-5.04,5.77H-2.59V8.80H-5.04Z M10.59,5.77H13.14V8.80H10.59Z M14.17,5.77H16.62V8.80H14.17Z" clip-rule="evenodd"/></clipPath><clipPath id="f3"><path d="M0,0H550V480H0Z M530.86,35.37H533.19V38.30H530.86Z M534.12,35.37H536.37V38.30H534.12Z" clip-rule="evenodd"/></clipPath><clipPath id="f4"><path d="M0,0H550V480H0Z M530.86,58.07H533.19V61.00H530.86Z M534.12,58.07H536.37V61.00H534.12Z" clip-rule="evenodd"/></clipPath><clipPath id="f5"><path d="M0,0H550V480H0Z M154.77,298.57H157.81V301.85H154.77Z M159.08,298.57H162.01V301.85H159.08Z" clip-rule="evenodd"/></clipPath><clipPath id="f6"><path d="M0,0H550V480H0Z M196.94,298.57H199.97V301.85H196.94Z M201.25,298.57H204.17V301.85H201.25Z" clip-rule="evenodd"/></clipPath><clipPath id="f7"><path d="M0,0H550V480H0Z M154.77,453.57H157.81V456.85H154.77Z M159.08,453.57H162.01V456.85H159.08Z" clip-rule="evenodd"/></clipPath><clipPath id="f8"><path d="M0,0H550V480H0Z M196.94,453.57H199.97V456.85H196.94Z M201.25,453.57H204.17V456.85H201.25Z" clip-rule="evenodd"/></clipPath></defs>
</svg></body></html>
